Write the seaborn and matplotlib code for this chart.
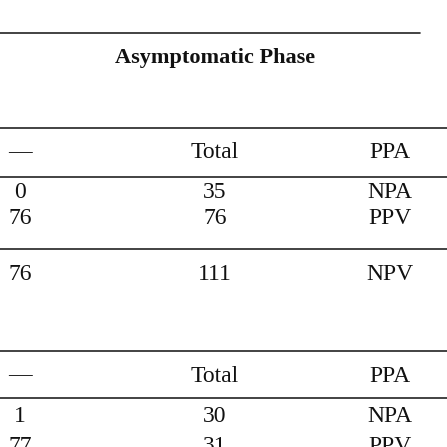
import matplotlib
matplotlib.use("Agg")
import matplotlib.pyplot as plt
import seaborn as sns

sns.set_theme(style="white")
plt.rcParams['font.family'] = ['Liberation Serif', 'DejaVu Serif']

title = "Asymptomatic Phase"
header = ["\u2014", "Total", "PPA"]
block1 = [["0", "35", "NPA"], ["76", "76", "PPV"]]
total1 = ["76", "111", "NPV"]
block2 = [["1", "30", "NPA"], ["77", "31", "PPV"]]

W = H = 447
fig = plt.figure(figsize=(4.47, 4.47), dpi=100)
ax = fig.add_axes([0, 0, 1, 1])
ax.set_xlim(0, W); ax.set_ylim(H, 0); ax.axis("off")
cols = [20, 215, 390]
fs = 17

def row(vals, y):
    for x, v in zip(cols, vals):
        ax.text(x, y, v, ha="center", va="center", fontsize=fs, color="#111")

def hline(y, x0=0, x1=W, lw=1.2):
    ax.plot([x0, x1], [y, y], color="#222", lw=lw)

hline(33, 0, 420)
ax.text(215, 58, title, ha="center", va="center", fontsize=16, fontweight="bold", color="#111")
hline(128)
row(header, 153)
hline(177)
row(block1[0], 192)
row(block1[1], 218)
hline(249)
row(total1, 274)
hline(351)
row(header, 376)
hline(398)
row(block2[0], 416)
row(block2[1], 446)
fig.savefig("out.png", dpi=100)
